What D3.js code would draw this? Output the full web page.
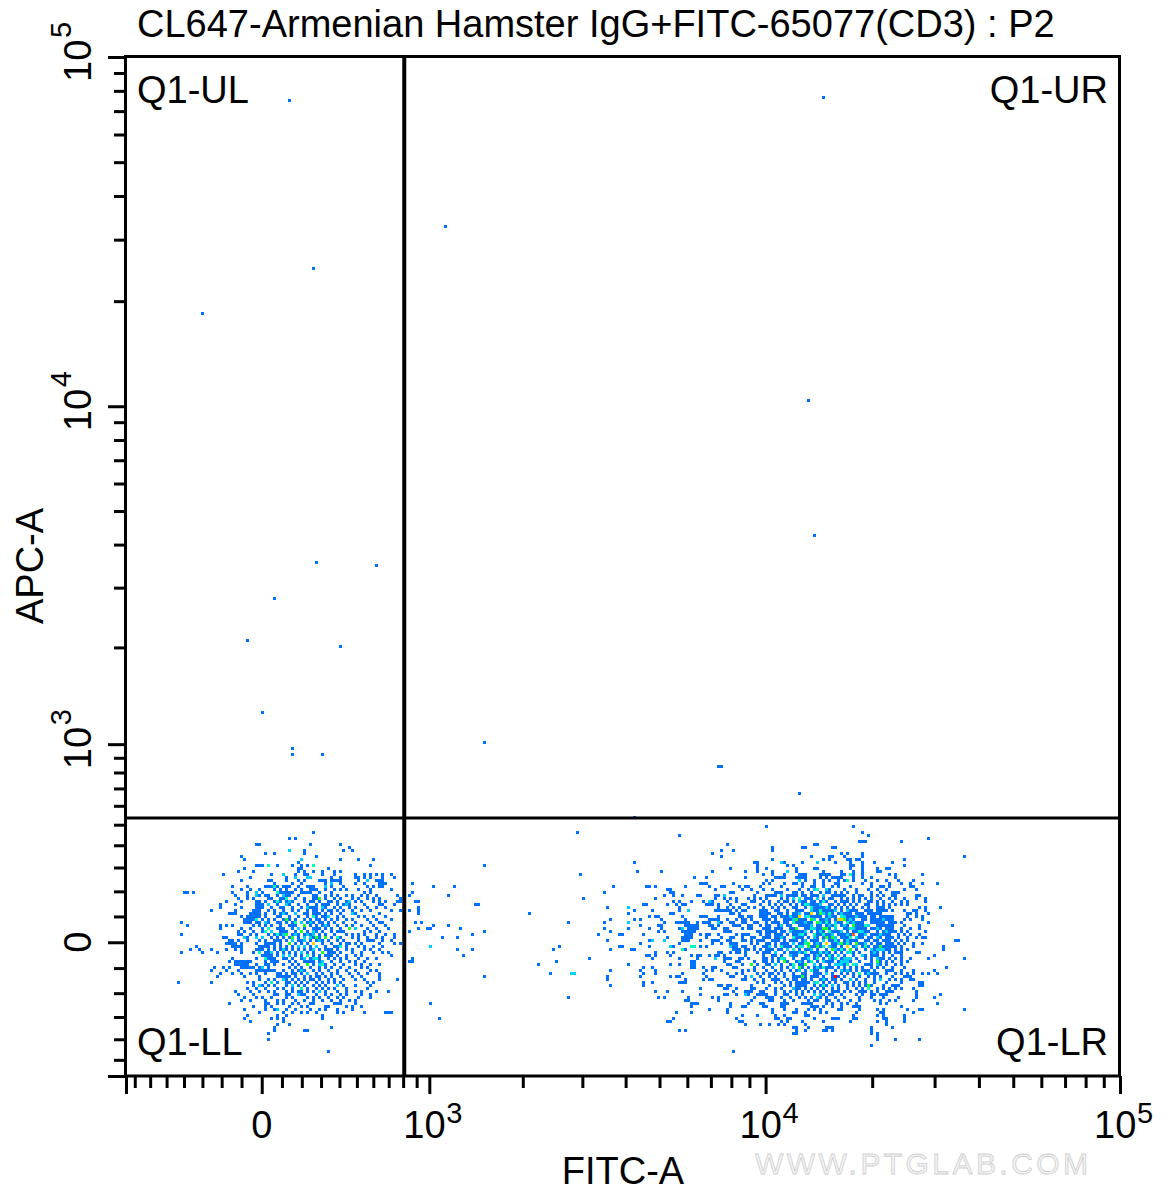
<!DOCTYPE html>
<html>
<head>
<meta charset="utf-8">
<script src="https://cdn.jsdelivr.net/npm/d3@7"></script>
<style>
  html, body { margin: 0; padding: 0; background: #fff; }
  text { font-family: "Liberation Sans", Arial, sans-serif; fill: #000; }
</style>
</head>
<body>
<svg id="chart" width="1168" height="1193"></svg>
<script>
// histogram grid is 331 x 340 bins, every row below is [row, col, col, ...]
const sparseCells = [[54,14],[232,13],[106,56],[62,70],[25,85],[227,114],[229,159],[63,168],[83,169],[49,180],[40,194],[71,196],[45,218],[55,230],[55,232],[65,232],[119,228],[197,236],[198,236],[224,245]];

const lowLeftRows = [
[258,62],[260,54,56],[262,43,44,61,71],[263,74],[264,54,59,72,75],[265,46,49,59],
[266,38,63],[267,39,58,71,77,82],[268,57],[269,43,44,45,47,50,55,58,60,62,81],
[270,39,57,58,67],[271,37,42,57,59,62,65,69,71],[272,32,48,52,56,59,60,65,69,76,79,81,83,85,88],
[273,41,53,56,60,61,68,71,76,77,79,81,85,89],[274,38,47,48,53,57,59,64,65,66,68,69,70,71,77,80,83,84,85],
[275,49,55,58,66,68,71,76,79,84,85,86],[276,35,40,46,47,48,50,52,53,54,57,60,61,62,68,72,80,82,84,85],
[277,38,41,44,49,51,53,56,58,61,62,63,66,69,71,73,77,81,88],
[278,19,20,22,35,40,43,45,50,51,52,53,54,55,58,59,60,61,64,68,79,81],
[279,36,40,44,46,47,50,52,53,54,57,62,63,66,68,70,73,75,78,80,83,90],
[280,37,40,42,47,48,51,52,53,56,59,62,63,64,66,69,71,75,77,80,82,84,91],
[281,33,38,43,44,46,49,50,51,53,55,59,61,62,64,67,68,70,73,76,78,82,84,86,90],
[282,31,36,43,44,45,47,50,53,54,57,60,63,65,66,67,70,72,74,79,84,85,89],
[283,31,38,43,44,45,48,51,52,55,58,61,62,63,66,69,71,74,76,80,83,86],
[284,28,36,42,43,44,47,49,52,55,57,60,62,63,65,67,68,70,72,75,78,81,88,91],
[285,34,35,36,41,42,43,44,46,49,51,53,56,59,60,62,63,64,66,68,71,76,84],
[286,38,40,41,42,43,44,46,50,51,54,57,60,63,65,66,67,70,72,77,79,82,86],
[287,39,40,41,42,43,45,47,49,52,54,56,59,61,63,64,66,68,70,73,75,80,83,88],
[288,18,39,40,41,43,44,47,50,51,53,55,58,60,62,64,65,67,69,72,76,81,84,85],
[289,20,31,33,35,42,44,46,48,51,54,55,56,59,61,63,65,66,67,70,73,75,78,82,86],
[290,31,38,41,45,47,50,51,52,55,57,59,62,63,64,66,68,71,74,80,83,87],
[291,37,39,42,45,46,48,51,52,53,56,58,60,63,65,68,70,71,72,79,81,84],
[292,18,37,38,41,43,47,49,50,51,53,55,56,57,59,61,64,66,69,73,75,77,79,83,86,89],
[293,32,33,40,43,45,48,50,52,54,55,57,59,61,62,64,66,68,71,75,77,80,83,85,89],
[294,34,35,37,40,44,46,49,50,51,53,55,57,58,59,61,63,65,67,70,72,77,80,81,82,85,88],
[295,33,34,35,36,38,43,46,47,48,49,51,54,56,58,60,62,65,68,71,73,74,76,78,84,89,91],
[296,23,35,36,37,38,44,45,46,47,49,51,53,55,57,59,61,63,66,69,70,71,73,77,79,82,85],
[297,21,24,28,33,36,38,43,44,45,47,49,51,53,55,57,59,61,64,66,67,68,70,73,75,79,81,84],
[298,18,25,30,38,42,44,46,47,48,50,52,54,56,58,60,62,65,67,68,69,71,75,78,82,85,87],
[299,45,46,47,48,50,52,54,56,58,60,62,64,66,67,68,70,73,76,78,88],
[300,35,43,46,47,48,49,52,53,55,58,61,62,64,67,69,71,73,77,80,83],
[301,34,36,37,38,39,40,41,46,48,49,50,54,56,59,60,61,62,64,65,68,71,74,76,79,94,95],
[302,36,37,38,39,40,43,46,47,49,52,55,57,60,62,64,66,69,72,76,78,81,84],
[303,29,32,34,38,39,40,41,42,44,45,47,54,56,58,61,64,66,68,71,74,78,80],
[304,28,33,37,43,44,45,46,47,48,49,52,55,57,59,62,64,67,70,73,76,81,83],
[305,31,35,38,41,43,46,50,51,53,55,56,58,60,63,65,68,70,74,77,80,84],
[306,30,39,44,50,51,52,53,54,56,59,61,63,64,66,68,71,75,78,84],
[307,44,47,49,52,53,55,57,59,61,62,64,67,69,72,76,79,84,90],
[308,17,28,40,42,46,50,53,54,56,58,60,63,65,67,69,71,80,82],
[309,42,45,47,49,53,55,57,59,62,64,66,70,72,76,81],
[310,40,43,46,50,52,55,58,60,63,65,67,69,73,80],
[311,36,41,44,47,49,53,55,57,58,60,62,64,66,70,73,76,78,83,87],
[312,37,42,49,50,53,54,58,59,63,66,68,71,73,78,81],
[313,39,43,45,48,53,55,60,62,64,67,70,72,77,81],
[314,38,41,46,50,52,56,59,62,65,68,71,74,76],
[315,34,46,47,50,52,55,57,61,62,69,70,71,76],
[316,42,46,48,54,58,60,66,67,73,75,78],
[317,39,46,49,53,56,61,64,66,70,75],
[318,44,52,55,58,60,63,70,72,79,86,87,88],
[319,40,50,53,65],[320,39,48,50,52,65],[321,41,52],[322,50,54],[323,49,68],
[324,49,59,60],[325,47],[327,47],[331,67]
];

const lowMidRows = [
[253,169],[258,150],[259,184],[268,169],[269,119],[271,170,178],[272,151],[275,95],
[276,102,109,162,173,174,176],[277,180,181],[278,95,159,181,182],[279,94,107,179,182],
[280,152,176],[281,91,96,97,182,184],[282,116,117,172,173,180,183],[283,97,160,184],
[284,94,97,169,175,184],[285,97,134,167,181,182],[286,174,176,177],[287,161,169,171,178],
[288,96,98,147,159,179,183,184],[289,102,107,171,177,178],[290,97,100,101,111,159,167,174,178,184],
[291,94,119,161,177,179],[292,115,157,164,165,172],[293,105,110,180],[294,160,174],[295,91,171,184],
[296,144,164,165,174,181,182],[297,110,115,142,161,168,169],[298,176,180,182],[299,112,173,174,176,181],
[300,95,154,175,184],[301,143],[302,137,167,181,184],[303,172,175],[304,161,171,176],[305,141,172,176],
[306,119,160,171,181,183,184],[307,160],[308,172,175,184],[309,161,172],[311,176,180],[313,147,177,179],
[315,101],[318,183],[320,104,182],[321,180,181],[324,184]
];

const lowRightRows = [
[256,213,242],[258,245],[259,247],[260,267],[261,244,245,246,258],[262,200,229,230],[263,215,225,226,235,236],
[264,198,202,215],[265,195,238,240,245],[266,198,228,234,235,239,245,279],[267,215,232,234,240,241,243,244,259],
[268,209,210,218,219,225,236,241,245,249,255],[269,210,220,222,241,242,245,259],
[270,201,210,213,223,229,230,241,245,250,253,254],[271,195,206,210,215,223,232,238,242,245,250,251],
[272,212,215,219,224,225,226,231,232,233,234,238,239,242,245,254,256,265],
[273,189,193,206,216,217,218,219,223,224,225,226,231,233,235,236,237,238,242,245,248,256],
[274,213,215,224,226,229,232,234,237,239,242,246,250,253,257,262],
[275,191,192,193,202,212,214,219,222,223,225,229,232,236,237,245,248,254,258,261,265,270],
[276,186,194,198,199,204,206,207,211,218,225,228,229,232,235,237,241,248,251,252,254,261,262],
[277,196,205,208,212,215,220,224,227,230,234,239,243,247,250,253,259,263],
[278,201,202,210,216,217,218,222,223,225,228,231,233,234,236,238,240,243,248,251,255,256,257],
[279,185,190,191,196,197,209,213,214,215,216,220,221,222,223,225,226,228,229,230,232,235,236,237,238,239,242,244,245,248,250,252,255,256,263,264],
[280,196,199,201,203,207,209,211,213,218,220,222,224,226,227,228,230,232,234,235,238,240,242,244,246,248,251,254,256,259,263,266],
[281,188,192,195,200,203,208,209,212,214,217,219,220,222,225,226,228,229,231,233,236,238,239,240,242,244,247,248,250,252,255,258,260,266],
[282,185,186,193,194,195,197,201,205,206,211,214,216,218,221,223,225,227,228,229,230,231,234,235,237,239,241,243,246,247,250,252,254,256,258,260],
[283,197,200,202,204,207,209,212,215,217,219,222,223,226,229,230,231,232,234,236,238,240,242,245,247,250,251,252,254,264,266,271],
[284,196,197,198,199,200,201,203,205,206,211,212,213,216,217,220,223,224,225,228,229,230,231,232,233,234,235,236,238,241,242,243,246,247,248,250,251,252,253,255,259,262,263,266],
[285,201,202,204,211,212,213,214,217,218,220,222,223,226,227,228,230,231,232,233,235,237,238,239,240,241,243,244,245,247,248,249,250,251,260,261,263,267],
[286,185,191,192,193,197,204,205,207,208,211,212,213,215,216,218,219,220,222,223,224,226,228,229,230,231,233,234,235,236,238,239,240,241,242,244,245,246,248,249,251,252,253,254,255,260,263,265],
[287,186,194,195,196,197,200,203,205,206,208,212,213,214,216,219,220,221,223,224,225,226,228,229,231,232,233,234,236,237,239,240,241,242,245,246,248,249,250,251,252,253,254,255,259,261,265],
[288,185,186,187,190,192,193,194,197,198,201,202,205,206,209,210,213,215,216,217,219,220,223,224,225,227,228,230,231,232,234,237,238,240,241,243,244,245,248,249,250,251,252,254,255,256,258,267],
[289,186,187,188,189,190,194,195,197,202,203,204,207,208,211,213,214,217,218,220,221,224,225,226,227,228,230,231,233,234,235,236,238,239,240,243,244,245,246,247,250,251,252,253,254,255,259,264,275],
[290,187,188,189,190,195,196,199,200,205,207,208,212,213,214,216,217,218,221,222,223,226,227,229,230,231,232,233,234,236,239,240,241,243,244,245,246,248,249,250,251,253,254,255,258,261,264],
[291,185,186,187,188,189,199,200,201,210,211,213,214,215,216,218,219,222,223,224,225,226,228,230,231,232,235,236,237,238,240,242,243,244,245,246,247,250,252,253,254,255,256,258,260,266],
[292,186,187,188,191,193,194,197,203,205,206,207,211,213,214,216,217,218,220,222,223,224,226,229,230,231,233,234,235,237,238,239,241,244,245,246,248,249,250,252,253,254,257,259,261,264],
[293,185,186,187,188,193,198,201,202,205,208,209,212,213,214,216,217,219,222,223,224,225,227,229,230,232,233,234,236,238,239,240,243,244,245,247,248,250,251,253,254,255,257,260,263,265,266],
[294,185,186,187,191,195,196,197,200,201,205,206,208,210,211,212,215,216,217,219,221,222,223,225,228,229,230,232,234,235,237,239,241,242,243,246,247,249,250,252,253,254,256,258,260,276,277],
[295,195,198,201,202,203,208,210,213,214,216,218,219,220,222,224,225,226,229,231,233,235,236,237,239,241,244,245,246,248,250,251,253,254,255,257,259,262,265],
[296,189,191,193,202,203,205,206,209,212,213,214,216,219,220,221,223,225,227,228,229,231,234,235,236,238,240,242,245,247,249,250,252,253,254,255,256,258,262,272],
[297,186,202,203,204,206,207,209,211,213,214,215,217,218,220,222,224,226,227,228,230,233,235,237,239,241,243,246,248,249,250,251,252,253,254,256,258,260,272],
[298,197,198,201,203,204,206,210,212,213,214,216,219,221,222,223,225,228,229,230,232,234,236,238,240,242,244,248,249,250,252,254,256,257,258,263,264],
[299,188,190,191,194,196,197,199,206,212,215,216,218,221,222,223,226,227,229,231,233,234,235,237,239,242,245,246,248,249,250,252,255,258,269],
[300,190,199,200,201,204,205,207,212,213,215,217,218,219,222,225,226,227,229,232,234,235,236,238,240,243,246,248,250,251,252,254,256,258,261,267,279],
[301,188,189,199,203,204,209,212,213,215,217,220,223,224,225,227,230,233,234,235,237,238,239,241,244,248,250,251,253,255,258,260],
[302,188,189,200,201,205,208,210,213,214,216,218,221,224,225,226,229,231,234,236,238,239,240,243,246,247,248,250,251,253,256,258],
[303,188,189,192,195,196,202,203,209,212,215,218,220,222,225,227,229,230,231,232,233,234,235,237,239,241,243,245,248,250,252,255,259,273],
[304,193,195,198,205,207,209,213,216,218,221,223,224,226,228,229,230,233,236,239,241,243,245,246,247,249,253,254,255,258,262,269],
[305,185,192,200,203,205,210,212,214,215,217,219,222,225,226,229,230,231,233,235,238,240,242,244,246,248,249,250,253,256,258,260,262,265,267,270],
[306,193,201,202,206,208,211,214,216,219,222,223,224,226,228,229,230,232,235,237,239,242,244,247,249,251,255,259,260,261],
[307,186,192,194,195,205,206,209,212,215,216,217,220,222,223,225,226,228,231,233,235,236,238,241,243,246,249,251,254,256,258,261,262],
[308,185,186,210,212,216,218,221,223,224,225,226,227,229,230,232,234,236,239,240,242,244,246,249,253,258,264,265],
[309,197,198,200,201,208,214,219,221,223,224,225,226,229,231,233,235,237,240,242,244,246,248,252,255,256,257,264,265],
[310,191,199,200,203,208,209,213,216,218,222,223,224,226,228,230,232,235,237,240,243,245,247,250,252,254,256,258,262],
[311,185,202,206,207,208,211,212,216,219,221,223,225,227,229,231,233,235,236,237,239,241,244,245,246,248,250,253,254,255,263],
[312,191,199,200,203,206,207,210,211,212,213,216,219,220,223,225,229,232,234,235,238,243,245,248,249,251,252,253,263,271],
[313,187,195,197,209,213,214,215,218,221,224,226,228,231,233,236,239,244,248,252,257,263,269],
[314,186,187,197,208,214,215,219,222,227,229,230,233,234,237,241,244,249,251,254,256,262],
[315,188,189,190,201,207,211,212,218,219,220,225,226,227,228,233,235,238,240,243,251,253,270],
[316,188,201,205,206,212,213,218,219,228,229,230,232,235,238,242,243,244,258],
[317,194,200,215,219,223,227,229,231,237,238,244,250,252,260,264,265,279],
[318,188,200,215,222,223,226,231,233,243,251,252,262],
[319,205,210,216,219,226,227,242,250,252,259],
[320,203,216,217,220,221,229,235,236,237,242,243,252,253,259],
[321,204,205,218,220,225,232,241,250,253,259],
[322,206,211,214,217,219,226,253],
[323,222,223,227,233,234,235,248,255],
[324,186,223,226,232,233,235,248],[325,222,223,248,250],[326,250],[327,250,256,264],
[329,248],[331,202]
];

const cyanCells = [
[54,264],[58,267],[43,278],[47,282],[52,272],[56,273],[60,273],[61,273],[68,275],[66,276],[49,276],[43,279],[52,279],[54,281],[53,282],[60,283],[65,283],[74,281],[80,274],[73,282],[75,285],[56,285],[67,286],[52,285],[46,288],[58,288],[61,288],[66,289],[76,290],[48,291],[57,290],[62,291],[52,292],[56,292],[60,292],[62,292],[39,293],[43,293],[45,293],[59,293],[61,293],[70,293],[55,294],[59,294],[62,295],[64,294],[57,296],[59,296],[63,296],[52,297],[58,298],[62,297],[48,298],[52,299],[54,299],[59,300],[62,300],[65,301],[64,302],[45,303],[58,304],[60,305],[44,309],[52,307],[55,309],[70,309],[50,317],[57,312],[64,311],
[101,296],[148,305],[149,305],[167,283],[167,288],[175,294],[179,294],[181,296],
[218,268],[230,268],[220,271],[224,274],[229,277],[233,277],[232,279],[222,280],[230,280],[224,281],[227,282],[231,282],[233,283],[228,284],[236,284],[240,284],[224,285],[232,285],[238,285],[221,286],[226,286],[234,286],[239,286],[243,286],[222,287],[229,287],[233,287],[241,287],[252,287],[226,288],[231,288],[236,288],[242,288],[218,289],[228,289],[234,289],[239,289],[247,289],[223,290],[229,290],[236,290],[242,290],[250,290],[221,291],[226,291],[231,291],[238,291],[245,291],[253,291],[224,292],[235,292],[240,292],[246,292],[251,292],[218,293],[229,293],[236,293],[243,293],[250,293],[226,294],[232,294],[240,294],[222,295],[230,295],[237,295],[246,295],[214,296],[225,296],[234,296],[243,296],[220,297],[228,297],[236,297],[248,297],[250,297],[251,297],[252,297],[216,298],[224,298],[233,298],[240,298],[249,298],[221,299],[230,299],[237,299],[245,299],[219,300],[227,300],[234,300],[239,300],[240,300],[241,300],[250,300],[224,301],[232,301],[238,301],[239,301],[240,301],[216,302],[229,302],[236,302],[237,302],[238,302],[243,302],[250,302],[222,303],[230,303],[238,304],[224,304],[240,304],[233,305],[247,305],[208,306],[232,307],[241,307],[251,307],[229,308],[235,309],[222,310],[229,312],[231,312],[206,312],[230,313],[197,288],[187,284],[194,281],[199,279],[218,279],[185,290],[201,296],[196,300]
];

const tealCells = [
[47,269],[62,269],[49,276],[50,278],[50,281],[53,280],[56,288],[62,286],[50,292],[46,291],[43,287],[46,300],[60,299],[44,298],[65,302],[70,293],[71,296],[63,300],[48,308],[58,310],[47,290],
[189,296],[185,297],
[230,277],[224,280],[226,282],[232,281],[228,283],[231,284],[234,285],[227,286],[238,286],[222,288],[233,288],[240,288],[228,290],[236,289],[241,290],[244,291],[225,292],[234,291],[229,292],[222,293],[232,292],[241,293],[226,295],[236,294],[224,296],[232,296],[240,295],[246,296],[222,297],[231,298],[238,297],[226,298],[234,299],[241,298],[228,301],[236,300],[218,300],[230,300],[242,302],[222,302],[232,303],[240,302],[228,304],[244,305],[230,308],[232,309],[188,296],[241,272],[240,274],[247,310],[218,296],[246,289]
];

const greenCells = [
[64,280],[53,287],[59,289],[58,291],[53,292],[55,293],[63,293],[66,293],[54,295],[65,298],[60,302],[74,290],
[231,285],[223,287],[228,287],[230,288],[242,289],[232,290],[233,290],[223,290],[235,293],[233,293],[227,295],[238,295],[243,295],[227,296],[230,296],[251,296],[235,297],[241,297],[219,301],[250,301],[226,302],[208,302],[224,303],[225,306],[247,309],[239,287]
];

// yellow, orange and red peak bins as [col, row, colour index]
const hotCells = [[62,295,0],[228,285,0],[224,286,0],[237,287,0],[238,287,0],[233,295,0],[240,296,0],[242,292,1],[236,306,2]];

const xMajor = [0, 1000, 10000, 100000];
const xMinor = [-700, -600, -500, -400, -300, -200, -100, 100, 200, 300, 400, 500, 600, 700, 800, 900, 2000, 3000, 4000, 5000, 6000, 7000, 8000, 9000, 20000, 30000, 40000, 50000, 60000, 70000, 80000, 90000];
const yMajor = [0, 1000, 10000, 100000];
const yMinor = [-500, -400, -300, -200, -100, 100, 200, 300, 400, 500, 600, 700, 800, 900, 2000, 3000, 4000, 5000, 6000, 7000, 8000, 9000, 20000, 30000, 40000, 50000, 60000, 70000, 80000, 90000];
const cornerLabels = ["Q1-UL", "Q1-UR", "Q1-LL", "Q1-LR"];

const plotLeft = 126, plotRight = 1120, plotTop = 57, plotBottom = 1076;
const svg = d3.select("#chart");

// both axes are asinh shaped, w is where the log part starts
const xW = 760, yW = 585;
const xT = (v) => Math.asinh(v / xW);
const yT = (v) => Math.asinh(v / yW);
const x = d3.scaleLinear().domain([xT(-xW), xT(100000)]).range([plotLeft, plotRight]);
const y = d3.scaleLinear().domain([yT(-yW), yT(100000)]).range([plotBottom, plotTop]);
const binX = d3.scaleLinear().domain([0, 331]).range([126, 1119]);
const binY = d3.scaleLinear().domain([0, 340]).range([57, 1077]);

const cellColor = { low: "#0070ff", cyan: "#00d0ff", teal: "#00ffb4", green: "#1eff28" };
const hotColor = ["#ffd000", "#ff6000", "#ff0000"];

function drawCells(list, color) {
  svg.append("g").attr("shape-rendering", "crispEdges")
    .selectAll("rect").data(list).join("rect")
    .attr("x", (d) => binX(d[0]))
    .attr("y", (d) => binY(d[1]))
    .attr("width", binX(1) - binX(0))
    .attr("height", binY(1) - binY(0))
    .attr("fill", color);
}

const lowCells = lowLeftRows.concat(lowMidRows, lowRightRows)
  .flatMap((row) => row.slice(1).map((c) => [c, row[0]]));

// sparse ones are listed [col, row]
drawCells(sparseCells, cellColor.low);
drawCells(lowCells, cellColor.low);
drawCells(cyanCells, cellColor.cyan);
drawCells(tealCells, cellColor.teal);
drawCells(greenCells, cellColor.green);
drawCells(hotCells, (d) => hotColor[d[2]]);

// ticks
function addAxis(axis, tx, ty) {
  const g = svg.append("g").attr("transform", `translate(${tx},${ty})`).call(axis);
  g.select(".domain").remove();
  g.selectAll("line").attr("stroke", "#000").attr("stroke-width", 3);
  g.selectAll("text").remove();
}
addAxis(d3.axisBottom(x).tickValues(xMajor.concat(-xW).map(xT)).tickSize(18), 0, plotBottom);
addAxis(d3.axisBottom(x).tickValues(xMinor.map(xT)).tickSize(12), 0, plotBottom);
addAxis(d3.axisLeft(y).tickValues(yMajor.concat(-yW).map(yT)).tickSize(18), plotLeft, 0);
addAxis(d3.axisLeft(y).tickValues(yMinor.map(yT)).tickSize(12), plotLeft, 0);

// frame and gates
svg.append("rect").attr("x", plotLeft - 0.5).attr("y", plotTop - 0.5)
  .attr("width", plotRight - plotLeft).attr("height", plotBottom - plotTop + 0.5)
  .attr("fill", "none").attr("stroke", "#000").attr("stroke-width", 3);

const gateX = 808, gateY = 534;
svg.append("line").attr("x1", x(xT(gateX))).attr("x2", x(xT(gateX)))
  .attr("y1", plotTop).attr("y2", plotBottom)
  .attr("stroke", "#000").attr("stroke-width", 4);
svg.append("line").attr("x1", plotLeft).attr("x2", plotRight)
  .attr("y1", y(yT(gateY))).attr("y2", y(yT(gateY)))
  .attr("stroke", "#000").attr("stroke-width", 3);

// text
const fs = 38, supFs = 29;
svg.append("text").attr("x", 137).attr("y", 37).attr("font-size", fs)
  .text("CL647-Armenian Hamster IgG+FITC-65077(CD3) : P2");
svg.append("text").attr("x", 623).attr("y", 1184).attr("font-size", fs)
  .attr("text-anchor", "middle").text("FITC-A");
svg.append("text").attr("transform", "translate(43,566) rotate(-90)").attr("font-size", fs)
  .attr("text-anchor", "middle").text("APC-A");

svg.append("text").attr("x", 137).attr("y", 103).attr("font-size", fs).text(cornerLabels[0]);
svg.append("text").attr("x", 1108).attr("y", 103).attr("font-size", fs).attr("text-anchor", "end").text(cornerLabels[1]);
svg.append("text").attr("x", 137).attr("y", 1055).attr("font-size", fs).text(cornerLabels[2]);
svg.append("text").attr("x", 1108).attr("y", 1055).attr("font-size", fs).attr("text-anchor", "end").text(cornerLabels[3]);

// tick labels
xMajor.forEach((v) => {
  const px = x(xT(v));
  if (v === 0) {
    svg.append("text").attr("x", px).attr("y", 1138).attr("font-size", fs).attr("text-anchor", "middle").text("0");
  } else {
    svg.append("text").attr("x", px - 26).attr("y", 1138).attr("font-size", fs).text("10");
    svg.append("text").attr("x", px + 17).attr("y", 1123).attr("font-size", supFs).text(Math.log10(v));
  }
});
yMajor.forEach((v) => {
  const py = y(yT(v));
  if (v === 0) {
    svg.append("text").attr("transform", `translate(91,${py}) rotate(-90)`).attr("font-size", fs).attr("text-anchor", "middle").text("0");
  } else {
    svg.append("text").attr("transform", `translate(91,${py + 25}) rotate(-90)`).attr("font-size", fs).text("10");
    svg.append("text").attr("transform", `translate(71,${py - 19}) rotate(-90)`).attr("font-size", supFs).text(Math.log10(v));
  }
});

// watermark
svg.append("text").attr("x", 755).attr("y", 1174).attr("font-size", 30)
  .attr("textLength", 333)
  .style("fill", "#f4f4f4").attr("stroke", "#cfcfcf").attr("stroke-width", 0.8)
  .text("WWW.PTGLAB.COM");
</script>
</body>
</html>
